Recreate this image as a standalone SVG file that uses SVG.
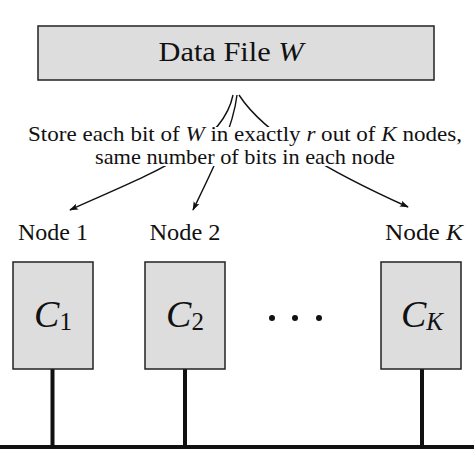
<svg xmlns="http://www.w3.org/2000/svg" width="474" height="474" viewBox="0 0 474 474">
<style>
.box{fill:#dddddd;stroke:#222;stroke-width:1.5}
.t{font-family:"Liberation Serif","Times New Roman",serif;fill:#111}
.conn{fill:none;stroke:#111;stroke-width:1.4}
.bus{stroke:#111;stroke-width:4;fill:none}
</style>
<defs>
<marker id="ah" viewBox="0 0 10 10" refX="9" refY="5" markerWidth="9" markerHeight="9" markerUnits="userSpaceOnUse" orient="auto">
<path d="M0,1.5 L10,5 L0,8.5 L2,5 Z" fill="#111"/>
</marker>
</defs>
<rect width="474" height="474" fill="#fff"/>
<g id="datafile">
<rect class="box" x="38" y="26" width="396" height="54"/>
<text class="t" x="231" y="61" font-size="27" text-anchor="middle" textLength="145" lengthAdjust="spacingAndGlyphs">Data File <tspan font-style="italic">W</tspan></text>
</g>
<g id="connectors">
<path class="conn" d="M233,95 C222,150 140,178 70,210" marker-end="url(#ah)"/>
<path class="conn" d="M237,95 C233,130 210,175 193,210" marker-end="url(#ah)"/>
<path class="conn" d="M239,95 C265,135 330,172 408,207" marker-end="url(#ah)"/>
</g>
<g id="caption">
<rect x="24" y="127" width="444" height="39" fill="#fff"/>
<text class="t" x="245" y="141" font-size="22" text-anchor="middle" textLength="434" lengthAdjust="spacingAndGlyphs">Store each bit of <tspan font-style="italic">W</tspan> in exactly <tspan font-style="italic">r</tspan> out of <tspan font-style="italic">K</tspan> nodes,</text>
<text class="t" x="245" y="164" font-size="22" text-anchor="middle" textLength="300" lengthAdjust="spacingAndGlyphs">same number of bits in each node</text>
</g>
<g id="bus">
<line class="bus" x1="0" y1="447" x2="474" y2="447"/>
<line class="bus" x1="52.5" y1="369" x2="52.5" y2="447"/>
<line class="bus" x1="185" y1="369" x2="185" y2="447"/>
<line class="bus" x1="422" y1="369" x2="422" y2="447"/>
</g>
<g id="node1">
<text class="t" x="53" y="240" font-size="23" text-anchor="middle" textLength="70" lengthAdjust="spacingAndGlyphs">Node 1</text>
<rect class="box" x="13" y="262" width="80" height="107"/>
<text class="t" x="53" y="327" font-size="38" text-anchor="middle"><tspan font-style="italic">C</tspan><tspan font-size="25" dy="3">1</tspan></text>
</g>
<g id="node2">
<text class="t" x="185" y="240" font-size="23" text-anchor="middle" textLength="71" lengthAdjust="spacingAndGlyphs">Node 2</text>
<rect class="box" x="145" y="262" width="80" height="107"/>
<text class="t" x="185" y="327" font-size="38" text-anchor="middle"><tspan font-style="italic">C</tspan><tspan font-size="25" dy="3">2</tspan></text>
</g>
<g id="dots">
<circle cx="272" cy="318" r="3" fill="#111"/>
<circle cx="295" cy="318" r="3" fill="#111"/>
<circle cx="319" cy="318" r="3" fill="#111"/>
</g>
<g id="nodeK">
<text class="t" x="424" y="240" font-size="23" text-anchor="middle" textLength="78" lengthAdjust="spacingAndGlyphs">Node <tspan font-style="italic">K</tspan></text>
<rect class="box" x="381" y="262" width="80" height="107"/>
<text class="t" x="422" y="327" font-size="38" text-anchor="middle"><tspan font-style="italic">C</tspan><tspan font-size="25" font-style="italic" dy="3">K</tspan></text>
</g>
</svg>
